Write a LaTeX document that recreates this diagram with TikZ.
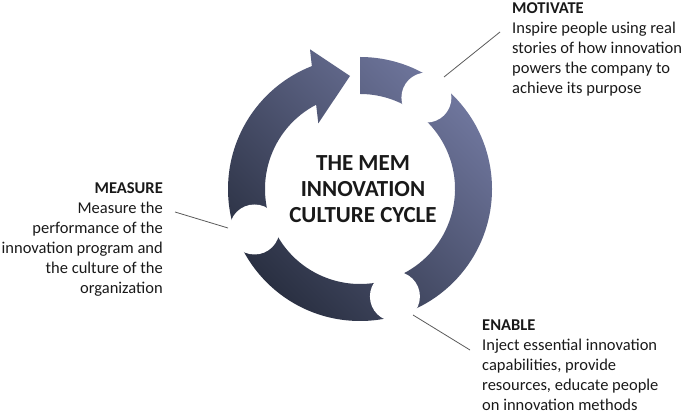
\documentclass[tikz,border=0pt]{standalone}
\usepackage{fontspec}
\setmainfont{Carlito}
\usetikzlibrary{calc}
\definecolor{ringdark}{RGB}{42,48,66}
\definecolor{ringlight}{RGB}{112,119,158}
\definecolor{txt}{RGB}{25,25,25}
\definecolor{leader}{RGB}{90,90,90}
\tikzset{
  ringfill/.style={left color=ringdark, right color=ringlight, shading angle=135},
  gapdot/.style={circle, fill=white, draw=none, minimum size=50pt, inner sep=0pt},
  leaderline/.style={draw=leader, line width=0.8pt},
  bodytext/.style={inner sep=0pt, text=txt, font=\fontsize{16.5}{20}\selectfont},
  titletext/.style={inner sep=0pt, text=txt, align=center, font=\fontsize{23}{26}\selectfont\bfseries}
}
\begin{document}
\begin{tikzpicture}[x=1pt,y=1pt]
\useasboundingbox (0,0) rectangle (685,412);
\coordinate (C) at (360,223);
% ring with arrow head
\shade[ringfill] ($(C)+(90:132)$) arc[start angle=90, end angle=-248.6, radius=132]
  -- (310,362.7) -- (350,336) -- (318.3,288.7)
  -- ($(C)+(117.5:95)$) arc[start angle=117.5, end angle=450, radius=95] -- cycle;
% white gaps
\node[gapdot] (gm) at ($(C)+(54:113)$) {};
\node[gapdot] (ge) at ($(C)+(-72:113)$) {};
\node[gapdot] (gs) at ($(C)+(201:113)$) {};
% title
\node[titletext, anchor=north] (title) at (363,256.5) {THE MEM\\INNOVATION\\CULTURE CYCLE};
% labels
\node[bodytext, align=left, anchor=north west] (mot) at (512,409.5)
  {\textbf{MOTIVATE}\\Inspire people using real\\stories of how innovation\\powers the company to\\achieve its purpose};
\node[bodytext, align=right, anchor=north east] (mea) at (163,229.5)
  {\textbf{MEASURE}\\Measure the\\performance of the\\innovation program and\\the culture of the\\organization};
\node[bodytext, align=left, anchor=north west] (ena) at (482,92.5)
  {\textbf{ENABLE}\\Inject essential innovation\\capabilities, provide\\resources, educate people\\on innovation methods};
% leader lines
\coordinate (m1) at (444,335); \coordinate (m2) at (500,380);
\coordinate (s1) at (228,184); \coordinate (s2) at (175,200);
\coordinate (e1) at (413,97);  \coordinate (e2) at (470,62);
\draw[leaderline] (m1) -- (m2);
\draw[leaderline] (s1) -- (s2);
\draw[leaderline] (e1) -- (e2);
\end{tikzpicture}
\end{document}
